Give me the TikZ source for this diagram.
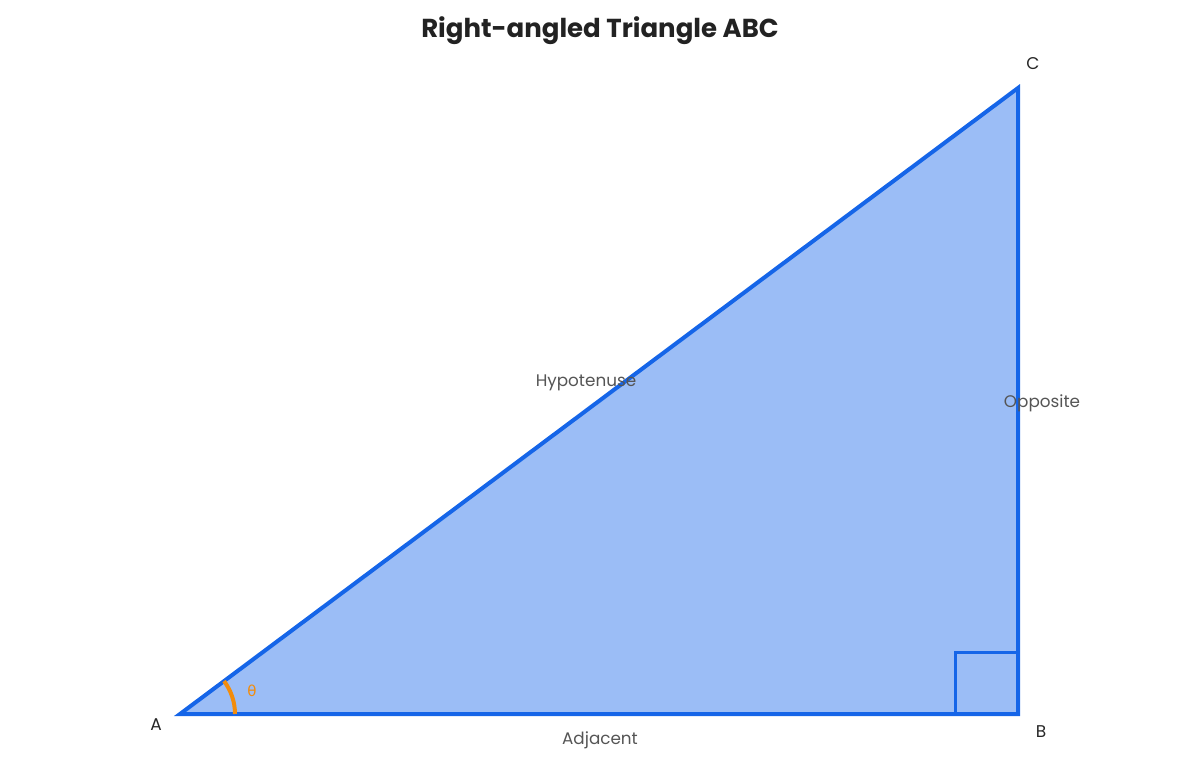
\documentclass[tikz,border=0pt]{standalone}
\usepackage{fontspec}
\setmainfont{Poppins}
\newfontfamily\greekfont{DejaVu Sans}
\definecolor{triFill}{HTML}{9BBDF6}
\definecolor{triLine}{HTML}{1565E8}
\definecolor{angOrange}{HTML}{F28C0C}
\definecolor{labGray}{HTML}{555555}
\definecolor{titleGray}{HTML}{222222}
\begin{document}
\begin{tikzpicture}[x=1pt,y=-1pt,
  lab/.style={font=\fontsize{16.8}{20}\selectfont, text=labGray, inner sep=0pt},
  vlab/.style={font=\fontsize{17}{20}\selectfont, text=black!85, inner sep=0pt}]
\useasboundingbox (0,0) rectangle (1200,763);
\coordinate (A) at (180,714);
\coordinate (B) at (1018,714);
\coordinate (C) at (1018,88);
\fill[triFill] (A) -- (B) -- (C) -- cycle;
\draw[triLine, line width=3pt] (955,714) -- (955,652) -- (1018,652);
\draw[triLine, line width=4pt, line join=miter] (A) -- (B) -- (C) -- cycle;
\draw[angOrange, line width=4pt] ([shift={(0:55)}]A) arc[start angle=0, end angle=-36.8, radius=55];
\node[font=\bfseries\fontsize{26}{30}\selectfont, text=titleGray] (title) at (600,31) {Right-angled Triangle ABC};
\node[vlab] (la) at (156,725) {A};
\node[vlab] (lb) at (1041,732) {B};
\node[vlab] (lc) at (1033,64) {C};
\node[lab] (hyp) at (586,383) {Hypotenuse};
\node[lab] (opp) at (1042,403) {Opposite};
\node[lab] (adj) at (600,740) {Adjacent};
\node[font=\greekfont\fontsize{15}{18}\selectfont, text=angOrange, inner sep=0pt] (th) at (252,691) {θ};
\end{tikzpicture}
\end{document}
